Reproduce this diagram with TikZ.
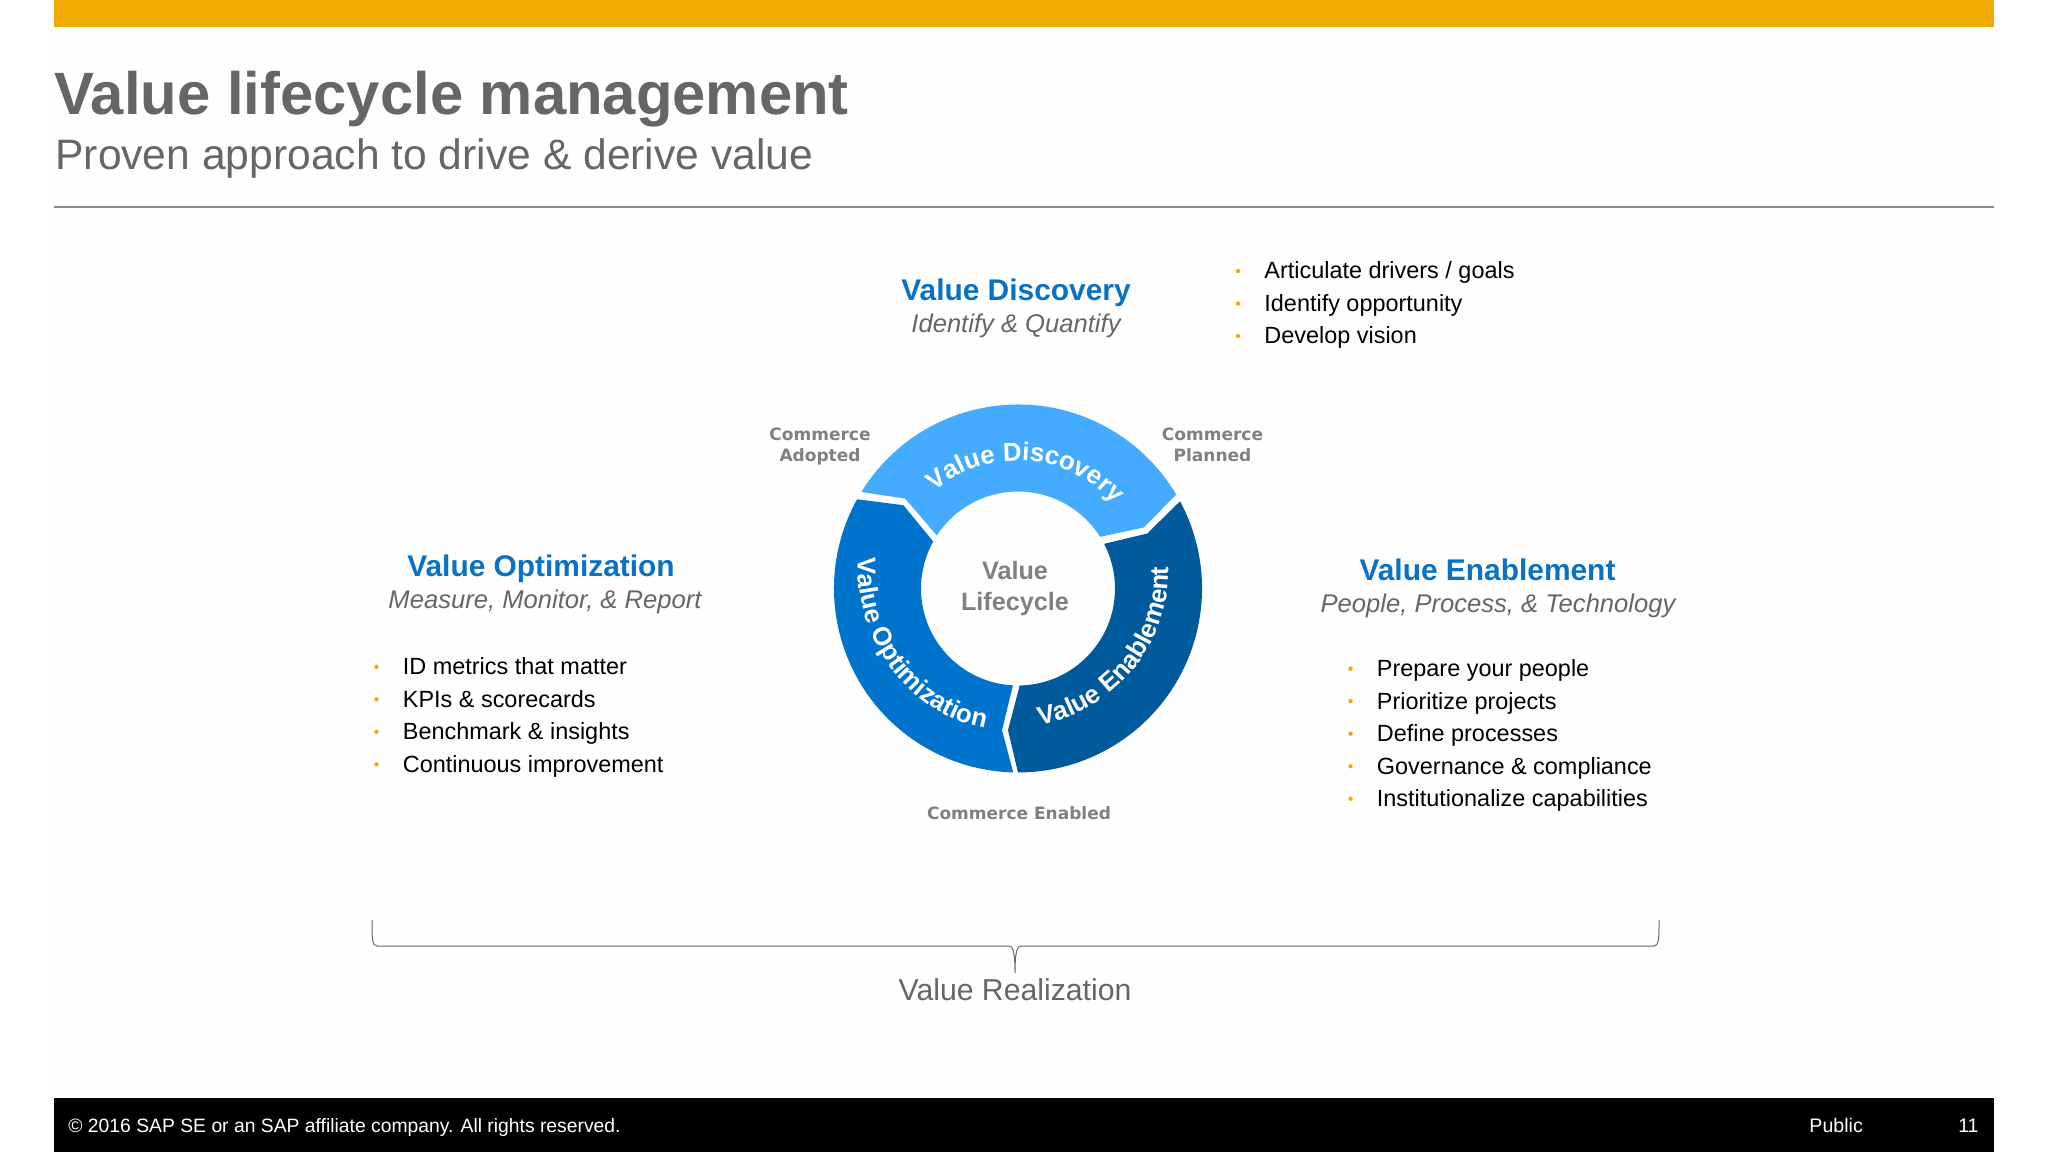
\documentclass[tikz,border=0pt]{standalone}
\usepackage{fontspec}
\setmainfont{Liberation Sans}
\newfontfamily\widefont{DejaVu Sans}
\usetikzlibrary{calc,decorations.text}
\definecolor{amber}{HTML}{F0AB00}
\definecolor{slate}{HTML}{666666}
\definecolor{hubgray}{HTML}{808080}
\definecolor{headblue}{HTML}{0A72C4}
\definecolor{ringlight}{HTML}{45ABFF}
\definecolor{ringmid}{HTML}{0073CC}
\definecolor{ringdark}{HTML}{005A9C}
\definecolor{paper}{HTML}{FEFEFE}
\newcommand\fsize[1]{\fontsize{#1}{#1}\selectfont}
\newcommand\ringfont{\fontsize{12.9}{15}\selectfont\bfseries\color{white}}
\tikzset{
  plain/.style={inner sep=0pt, anchor=base west},
  head/.style={inner sep=0pt, anchor=base, text=headblue, font=\fsize{14.95}\bfseries},
  tagline/.style={inner sep=0pt, anchor=base, text=slate, font=\fsize{12.8}\itshape},
  item/.style={inner sep=0pt, anchor=base west, text=black, font=\fsize{11.72}},
  tick/.style={fill=amber},
  corner/.style={inner sep=0pt, anchor=base, text=hubgray, align=center, font=\fsize{8.5}\widefont\bfseries},
  ringtext/.style={decorate, decoration={text along path, text align=center, text={|\ringfont|#1}}}
}
\begin{document}
\begin{tikzpicture}[x=0.5pt, y=0.5pt]
    \useasboundingbox (0,0) rectangle (2048,1152);
    \fill[fill=white] (0,0) rectangle (2048,1152);
    \fill[paper] (54,54) rectangle (1994,1125);
    \fill[amber] (54,1125) rectangle (1994,1152);
    \fill[black] (54,0) rectangle (1994,54);
    \draw[slate!75, line width=0.7pt] (54,945) -- (1994,945);
    % header
    \node[plain, text=slate, font=\fsize{29.9}\bfseries] (title) at (54,1037) {Value lifecycle management};
    \node[plain, text=slate, font=\fsize{21.3}] (subtitle) at (55,982) {Proven approach to drive \& derive value};
    % ring
    \begin{scope}[shift={(1018,563.5)}]
        \fill[ringlight] (148.4:184) arc[start angle=148.4, end angle=30.7, radius=184]
            -- (125.7,61) -- (32.2:97) arc[start angle=32.2, end angle=146.8, radius=97]
            -- (-113,90) -- cycle;
        \fill[ringdark] (28.3:184) arc[start angle=28.3, end angle=-90, radius=184]
            -- (-10,-141.7) -- (-89:97) arc[start angle=-89, end angle=27.4, radius=97]
            -- (129.3,55) -- cycle;
        \fill[ringmid] (151:184) arc[start angle=151, end angle=268.5, radius=184]
            -- (-16,-141.7) -- (267:97) arc[start angle=267, end angle=151, radius=97]
            -- (-114.6,83.3) -- cycle;
        \path[ringtext=Value Discovery] (130:128) arc[start angle=130, end angle=42, radius=128];
        \path[ringtext=Value Optimization] (-160,34) .. controls (-165,-60) and (-100,-130) .. (-30,-140);
        \path[ringtext=Value Enablement] (20,-137) .. controls (90,-125) and (155,-60) .. (150,24);
    \end{scope}
    \node[inner sep=0pt, anchor=base, text=hubgray, font=\fsize{12.6}\bfseries] (hubtop) at (1015,572) {Value};
    \node[inner sep=0pt, anchor=base, text=hubgray, font=\fsize{12.6}\bfseries] (hubbot) at (1015,541) {Lifecycle};
    % corner labels
    \node[corner] (adopted1) at (820,711) {Commerce};
    \node[corner] (adopted2) at (820,690) {Adopted};
    \node[corner] (planned1) at (1212.5,711) {Commerce};
    \node[corner] (planned2) at (1212.5,690) {Planned};
    \node[corner] (enabled) at (1019,333) {Commerce Enabled};
    % discovery
    \node[head] (dischead) at (1016,851) {Value Discovery};
    \node[tagline] (disctag) at (1016,819) {Identify \& Quantify};
    \foreach \txt [count=\i] in {Articulate drivers / goals, Identify opportunity, Develop vision} {
        \node[item] (disc\i) at (1264,{905.5-32.5*\i}) {\txt};
        \fill[tick] ($(disc\i.base west)+(-26,8)$) circle (2.2);
    }
    % optimization
    \node[head] (opthead) at (541,575) {Value Optimization};
    \node[tagline] (opttag) at (545,544) {Measure, Monitor, \& Report};
    \foreach \txt [count=\i] in {ID metrics that matter, KPIs \& scorecards, Benchmark \& insights, Continuous improvement} {
        \node[item] (opt\i) at (402.5,{509.7-32.5*\i}) {\txt};
        \fill[tick] ($(opt\i.base west)+(-26,8)$) circle (2.2);
    }
    % enablement
    \node[head] (enahead) at (1487.5,571) {Value Enablement};
    \node[tagline] (enatag) at (1498,539) {People, Process, \& Technology};
    \foreach \txt [count=\i] in {Prepare your people, Prioritize projects, Define processes, Governance \& compliance, Institutionalize capabilities} {
        \node[item] (ena\i) at (1376.5,{507.8-32.5*\i}) {\txt};
        \fill[tick] ($(ena\i.base west)+(-26,8)$) circle (2.2);
    }
    % brace
    \coordinate (bleft) at (372,232);
    \coordinate (bright) at (1659,232);
    \coordinate (btip) at (1015,179);
    \draw[slate, line width=0.5pt] (bleft) .. controls (372,214) and (372,206) .. (377,206)
        -- (1009,206) .. controls (1013,206) and (1015,200) .. (btip)
        .. controls (1015,200) and (1017,206) .. (1021,206)
        -- (1654,206) .. controls (1659,206) and (1659,214) .. (bright);
    \node[inner sep=0pt, anchor=base, text=slate, font=\fsize{15.1}] (realize) at (1015,152) {Value Realization};
    % footer
    \node[plain, text=white, font=\fsize{9.66}] (copyright) at (68,20) {© 2016 SAP SE or an SAP affiliate company. All rights reserved.};
    \node[plain, text=white, font=\fsize{9.8}] (public) at (1809,20) {Public};
    \node[inner sep=0pt, anchor=base east, text=white, font=\fsize{9.8}] (page) at (1979,20) {11};
\end{tikzpicture}
\end{document}
